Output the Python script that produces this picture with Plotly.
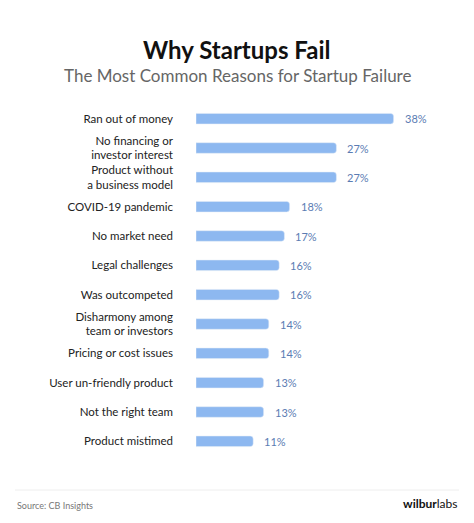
import plotly.graph_objects as go

reasons = [
    "Ran out of money",
    "No financing or<br>investor interest",
    "Product without<br>a business model",
    "COVID-19 pandemic",
    "No market need",
    "Legal challenges",
    "Was outcompeted",
    "Disharmony among<br>team or investors",
    "Pricing or cost issues",
    "User un-friendly product",
    "Not the right team",
    "Product mistimed",
]
shares = [38, 27, 27, 18, 17, 16, 16, 14, 14, 13, 13, 11]
value_labels = [f"{v}%" for v in shares]

W, H = 474, 523
off = 8  # page body margin
left, top = 196 - off, 104 - off
right, bottom = W - (456 - off), H - (456 - off)
plot_w = W - left - right
plot_h = H - top - bottom
font = "Lato"


def px_x(x):
    return (x - off - left) / plot_w


def px_y(y):
    return (H - bottom - (y - off)) / plot_h


fig = go.Figure(
    go.Bar(
        x=shares,
        y=reasons,
        orientation="h",
        marker=dict(color="#8db8f0", cornerradius=3),
        width=0.36,
        hoverinfo="skip",
    )
)

for r, v, t in zip(reasons, shares, value_labels):
    fig.add_annotation(
        x=v, y=r, text=t, showarrow=False, xanchor="left", xshift=9,
        font=dict(family=font, size=11, color="#5b7cb3"),
    )

fig.add_annotation(
    x=px_x(237), y=px_y(49), xref="paper", yref="paper", text="<b>Why Startups Fail</b>",
    showarrow=False, xanchor="center", yanchor="middle",
    font=dict(family=font, size=24, color="#111111"),
)
fig.add_annotation(
    x=px_x(237), y=px_y(76), xref="paper", yref="paper",
    text="The Most Common Reasons for Startup Failure",
    showarrow=False, xanchor="center", yanchor="middle",
    font=dict(family=font, size=17, color="#666666"),
)
fig.add_annotation(
    x=px_x(15), y=px_y(505), xref="paper", yref="paper", text="Source: CB Insights",
    showarrow=False, xanchor="left", yanchor="middle",
    font=dict(family=font, size=9, color="#777777"),
)
fig.add_annotation(
    x=px_x(459), y=px_y(504), xref="paper", yref="paper", text="<b>wilbur</b>labs",
    showarrow=False, xanchor="right", yanchor="middle",
    font=dict(family=font, size=12, color="#111111"),
)
fig.add_shape(
    type="line", xref="paper", yref="paper",
    x0=px_x(15), x1=px_x(459), y0=px_y(490), y1=px_y(490),
    line=dict(color="#eeeeee", width=1),
)

fig.update_xaxes(range=[0, 50], visible=False, fixedrange=True)
fig.update_yaxes(
    autorange="reversed", showgrid=False, zeroline=False, showline=False,
    ticks="", ticklabelstandoff=22,
    tickfont=dict(family=font, size=11.5, color="#222222"),
)
fig.update_layout(
    width=W, height=H,
    margin=dict(l=left, r=right, t=top, b=bottom),
    plot_bgcolor="white", paper_bgcolor="white",
    showlegend=False,
)

fig.write_html("out.html")
